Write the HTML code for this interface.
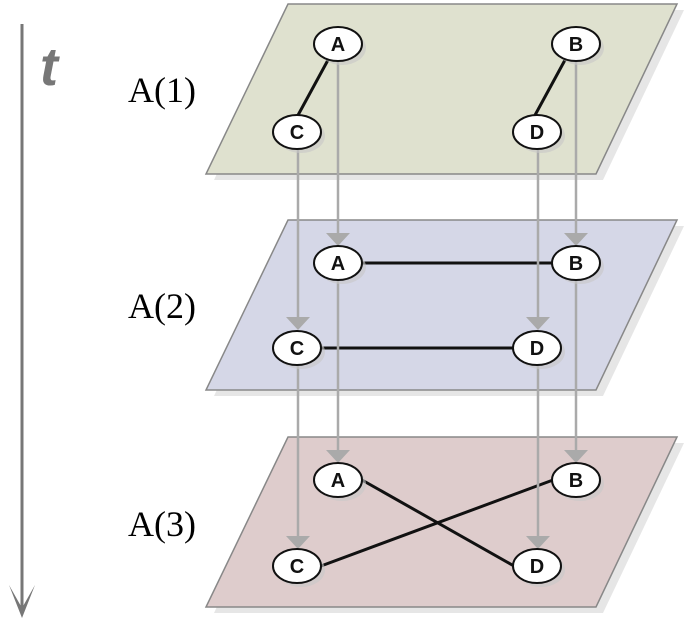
<!DOCTYPE html>
<html><head><style>
html,body{margin:0;padding:0;background:#fff;}
svg{display:block;}
.lbl{font-family:"Liberation Serif",serif;font-size:36px;fill:#000;}
.nt{font-family:"Liberation Sans",sans-serif;font-weight:bold;font-size:20px;text-anchor:middle;fill:#111;}
</style></head><body>
<svg width="685" height="624" viewBox="0 0 685 624" xmlns="http://www.w3.org/2000/svg">
<defs>
<marker id="ah" markerWidth="24" markerHeight="14" refX="12" refY="14" orient="auto" markerUnits="userSpaceOnUse">
</marker>
</defs>
<!-- time arrow -->
<line x1="22" y1="24" x2="22" y2="608" stroke="#777" stroke-width="3"/>
<polygon points="9,585 22,618 35,585 22,608" fill="#777"/>
<text x="40" y="85" font-family="Liberation Sans,sans-serif" font-style="italic" font-weight="bold" font-size="54" fill="#777">t</text>
<text x="128" y="102" class="lbl">A(1)</text>
<text x="128" y="318" class="lbl">A(2)</text>
<text x="128" y="536" class="lbl">A(3)</text>

<!-- planes -->
<g>
<polygon points="295,10 684,10 603,180 214,180" fill="#e6e6e6"/>
<polygon points="288,4 677,4 596,174 206,174" fill="#dfe1cf" stroke="#888" stroke-width="1.5"/>
<polygon points="295,226 684,226 603,396 214,396" fill="#e6e6e6"/>
<polygon points="288,220 677,220 596,390 206,390" fill="#d5d7e7" stroke="#888" stroke-width="1.5"/>
<polygon points="295,443 684,443 603,613 214,613" fill="#e6e6e6"/>
<polygon points="288,437 677,437 596,607 206,607" fill="#decccc" stroke="#888" stroke-width="1.5"/>
</g>

<!-- black edges -->
<g stroke="#111" stroke-width="3">
<line x1="328" y1="60" x2="297" y2="117"/>
<line x1="565" y1="60" x2="534" y2="117"/>
<line x1="362" y1="263" x2="553" y2="263"/>
<line x1="321" y1="348" x2="514" y2="348"/>
<line x1="362" y1="480" x2="514" y2="566"/>
<line x1="553" y1="480" x2="321" y2="566"/>
</g>

<!-- gray vertical arrows -->
<g stroke="#aaa" stroke-width="2.5">
<line x1="338" y1="61" x2="338" y2="240"/>
<line x1="576" y1="61" x2="576" y2="240"/>
<line x1="298" y1="149" x2="298" y2="325"/>
<line x1="538" y1="149" x2="538" y2="325"/>
<line x1="338" y1="280" x2="338" y2="457"/>
<line x1="576" y1="280" x2="576" y2="457"/>
<line x1="298" y1="365" x2="298" y2="543"/>
<line x1="538" y1="365" x2="538" y2="543"/>
</g>
<g fill="#aaa">
<polygon points="326,233 350,233 338,246"/>
<polygon points="564,233 588,233 576,246"/>
<polygon points="286,317 310,317 298,330"/>
<polygon points="526,317 550,317 538,330"/>
<polygon points="326,450 350,450 338,463"/>
<polygon points="564,450 588,450 576,463"/>
<polygon points="286,536 310,536 298,549"/>
<polygon points="526,536 550,536 538,549"/>
</g>

<!-- nodes -->
<g id="nodes">
<g fill="#c8c8c8" opacity="0.6">
<ellipse cx="342" cy="48" rx="24" ry="17"/><ellipse cx="580" cy="48" rx="24" ry="17"/>
<ellipse cx="301" cy="136" rx="24" ry="17"/><ellipse cx="541" cy="136" rx="24" ry="17"/>
<ellipse cx="342" cy="267" rx="24" ry="17"/><ellipse cx="580" cy="267" rx="24" ry="17"/>
<ellipse cx="301" cy="352" rx="24" ry="17"/><ellipse cx="541" cy="352" rx="24" ry="17"/>
<ellipse cx="342" cy="484" rx="24" ry="17"/><ellipse cx="580" cy="484" rx="24" ry="17"/>
<ellipse cx="301" cy="570" rx="24" ry="17"/><ellipse cx="541" cy="570" rx="24" ry="17"/>
</g>
<g fill="#fff" stroke="#111" stroke-width="2">
<ellipse cx="338" cy="44" rx="24" ry="17"/><ellipse cx="576" cy="44" rx="24" ry="17"/>
<ellipse cx="297" cy="132" rx="24" ry="17"/><ellipse cx="537" cy="132" rx="24" ry="17"/>
<ellipse cx="338" cy="263" rx="24" ry="17"/><ellipse cx="576" cy="263" rx="24" ry="17"/>
<ellipse cx="297" cy="348" rx="24" ry="17"/><ellipse cx="537" cy="348" rx="24" ry="17"/>
<ellipse cx="338" cy="480" rx="24" ry="17"/><ellipse cx="576" cy="480" rx="24" ry="17"/>
<ellipse cx="297" cy="566" rx="24" ry="17"/><ellipse cx="537" cy="566" rx="24" ry="17"/>
</g>
<text class="nt" x="338" y="51">A</text><text class="nt" x="576" y="51">B</text>
<text class="nt" x="297" y="139">C</text><text class="nt" x="537" y="139">D</text>
<text class="nt" x="338" y="270">A</text><text class="nt" x="576" y="270">B</text>
<text class="nt" x="297" y="355">C</text><text class="nt" x="537" y="355">D</text>
<text class="nt" x="338" y="487">A</text><text class="nt" x="576" y="487">B</text>
<text class="nt" x="297" y="573">C</text><text class="nt" x="537" y="573">D</text>
</g>
</svg>
</body></html>
